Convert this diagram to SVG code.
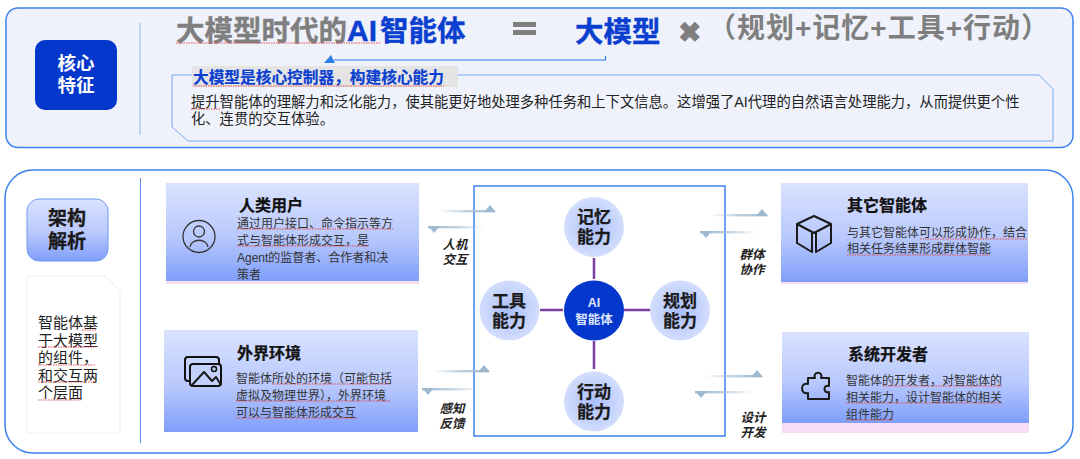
<svg xmlns="http://www.w3.org/2000/svg" width="1080" height="459" viewBox="0 0 1080 459">
<style>
text{font-family:"Liberation Sans","Noto Sans CJK SC",sans-serif}
.panel{stroke:#3b82ee;stroke-width:1.5}
.card{fill:url(#cardG)}
.pink{fill:#f8def4}
.ttl{font-size:16px;font-weight:700;fill:#111;stroke:#111;stroke-width:.25}
.body{font-size:12px;fill:#333}
.cap{font-size:17px;font-weight:700;fill:#1a1a1a;text-anchor:middle;stroke:#1a1a1a;stroke-width:.25}
.ital{font-size:12.5px;font-weight:700;font-style:italic;fill:#222;text-anchor:middle}
.cir{fill:url(#cirG)}
.link{stroke:#7a3fa0;stroke-width:2.5}
.sq{stroke:#e05050;stroke-width:1;stroke-dasharray:1.5 1;fill:none}
.ico{fill:none;stroke:#1a1a1a;stroke-width:2;stroke-linejoin:round}
</style>
<defs>
<linearGradient id="cardG" x1="0" y1="0" x2="0" y2="1"><stop offset="0" stop-color="#d9e2fe"/><stop offset="0.55" stop-color="#b9c9fd"/><stop offset="1" stop-color="#7f9efa"/></linearGradient>
<radialGradient id="cirG"><stop offset="0" stop-color="#a9bdfb"/><stop offset="1" stop-color="#d3defd"/></radialGradient>
<linearGradient id="fadeR" x1="0" y1="0" x2="1" y2="0"><stop offset="0" stop-color="#a9c2d6" stop-opacity="0"/><stop offset="0.5" stop-color="#a9c2d6" stop-opacity=".75"/><stop offset="1" stop-color="#9fbad0"/></linearGradient>
<linearGradient id="fadeL" x1="1" y1="0" x2="0" y2="0"><stop offset="0" stop-color="#a9c2d6" stop-opacity="0"/><stop offset="0.5" stop-color="#a9c2d6" stop-opacity=".75"/><stop offset="1" stop-color="#9fbad0"/></linearGradient>
<g id="arrR"><rect x="0" y="-1" width="57" height="2.4" fill="url(#fadeR)"/><path d="M46 1 L52 -6 L58 1 Z" fill="#9fbad0"/></g>
<g id="arrL"><rect x="0" y="-1" width="57" height="2.4" fill="url(#fadeL)"/><path d="M0 -1 L12 -1 L6 6 Z" fill="#9fbad0"/></g>
</defs>
<rect width="1080" height="459" fill="#fff"/>

<g id="core-panel">
<rect class="panel" x="6" y="8" width="1067" height="139.500" rx="12" fill="#eff2fb"/>
<line x1="140" y1="23" x2="140" y2="135" stroke="#8fb3ee" stroke-width="1"/>
</g>
<g id="core-badge">
<rect x="35" y="40" width="82" height="70" rx="10" fill="#0437cc"/>
<text font-size="18.500" font-weight="700" fill="#fff" text-anchor="middle"><tspan x="76" y="70">核心</tspan><tspan x="76" y="92">特征</tspan></text>
</g>
<g id="formula">
<text x="176" y="41" font-size="28.500" font-weight="700" fill="#7f7f7f" stroke="#7f7f7f" stroke-width=".4">大模型时代的</text>
<text x="347" y="41" font-size="28.500" font-weight="700" fill="#0b3fd0" stroke="#0b3fd0" stroke-width=".4"><tspan font-size="30">AI</tspan><tspan x="380">智能体</tspan></text>
<rect x="513" y="22" width="23" height="5" fill="#7f7f7f"/><rect x="513" y="30" width="23" height="5" fill="#7f7f7f"/>
<text x="575" y="42" font-size="28.500" font-weight="700" fill="#0b3fd0" stroke="#0b3fd0" stroke-width=".4">大模型</text>
<text x="689" y="42" font-size="28" font-weight="700" fill="#7f7f7f" text-anchor="middle">✖</text>
<text x="708" y="38" font-size="28" font-weight="700" fill="#7f7f7f" letter-spacing="1">（规划+记忆+工具+行动）</text>
<path class="sq" d="M176 43 H380"/>
</g>
<g id="connectors-top">
<path d="M605.500 56 V60 H334" fill="none" stroke="#2f7de8" stroke-width="1.200"/>
<path d="M324 63 L331 55 L335 63 Z" fill="#2f7de8"/>
</g>
<g id="core-note">
<path d="M192 75 H172 V127 L188 141 H1053 V89 L1039 75 H458" fill="none" stroke="#7aa7ee" stroke-width="1"/>
<rect x="192" y="66" width="266" height="21" fill="#e4e4e4"/>
<text x="193" y="83" font-size="15.700" font-weight="700" fill="#0b3fd0" stroke="#0b3fd0" stroke-width=".2">大模型是核心控制器，构建核心能力</text>
<path class="sq" d="M193 86 H444"/>
<text font-size="14.300" fill="#222"><tspan x="191" y="107">提升智能体的理解力和泛化能力，使其能更好地处理多种任务和上下文信息。这增强了AI代理的自然语言处理能力，从而提供更个性</tspan><tspan x="191" y="123.500">化、连贯的交互体验。</tspan></text>
<path class="sq" d="M191 109 H220"/>
</g>

<g id="arch-panel">
<rect class="panel" x="5" y="170" width="1068" height="283" rx="28" fill="#fff"/>
<line x1="140.500" y1="178" x2="140.500" y2="443" stroke="#5f96ee" stroke-width="1"/>
</g>
<g id="arch-badge">
<rect x="27" y="199" width="81" height="62" rx="12" fill="url(#cardG)" stroke="#6f9cf0" stroke-width="1"/>
<text font-size="19" font-weight="700" fill="#1a1a1a" stroke="#1a1a1a" stroke-width=".3" text-anchor="middle"><tspan x="67" y="225">架构</tspan><tspan x="67" y="248">解析</tspan></text>
</g>
<g id="arch-note">
<path d="M27 276 H105 L120 291 V433 H27 Z" fill="#fff" stroke="#eeeeee"/>
<text font-size="15" fill="#222"><tspan x="38" y="328">智能体基</tspan><tspan x="38" y="345.500">于大模型</tspan><tspan x="38" y="363">的组件，</tspan><tspan x="38" y="380.500">和交互两</tspan><tspan x="38" y="398">个层面</tspan></text>
<path class="sq" d="M82 330 H97 M38 347 H95 M38 365 H95 M38 382 H95 M38 400 H81"/>
</g>

<g id="human">
<rect class="pink" x="166" y="281" width="253" height="3"/>
<rect class="card" x="166" y="183" width="253" height="98"/>
<circle cx="199" cy="236.500" r="16" fill="none" stroke="#333" stroke-width="1.300"/>
<circle cx="199" cy="231.500" r="5.500" fill="none" stroke="#333" stroke-width="1.300"/>
<path d="M190 247 C191 238 207 238 208 247" fill="none" stroke="#333" stroke-width="1.300"/>
<text class="ttl" x="239" y="211">人类用户</text>
<text class="body"><tspan x="237" y="227.500">通过用户接口、命令指示等方</tspan><tspan x="237" y="245">式与智能体形成交互，是</tspan><tspan x="237" y="262">Agent的监督者、合作者和决</tspan><tspan x="237" y="278.500">策者</tspan></text>
<path class="sq" d="M237 229 H393 M237 246 H369"/>
</g>
<g id="environment">
<rect class="card" x="164" y="330" width="254" height="102"/>
<rect x="185" y="357" width="34" height="24" rx="3" fill="none" stroke="#111" stroke-width="2"/>
<rect x="190" y="364" width="31" height="22" rx="3" fill="#c3d0fc" stroke="#111" stroke-width="2"/>
<path class="ico" d="M192 385 L204 372 L212 381 L216 377 L221 385"/>
<circle cx="214" cy="369" r="2.500" fill="none" stroke="#111" stroke-width="1.500"/>
<text class="ttl" x="237" y="359">外界环境</text>
<text class="body"><tspan x="236" y="382.500">智能体所处的环境（可能包括</tspan><tspan x="236" y="399.500">虚拟及物理世界），外界环境</tspan><tspan x="236" y="416.500">可以与智能体形成交互</tspan></text>
<path class="sq" d="M272 384 H390 M236 401 H390 M236 418 H357"/>
</g>
<g id="other-agents">
<rect class="pink" x="781" y="282" width="247" height="2"/>
<rect class="card" x="781" y="183" width="247" height="99"/>
<path class="ico" d="M797 224 L814 216 L831 224 L814 233 Z M797 224 V243 L812 252 V233 M831 224 V243 L816 252 V233" stroke-width="2.200"/>
<text class="ttl" x="847" y="211">其它智能体</text>
<text class="body"><tspan x="847" y="237">与其它智能体可以形成协作，结合</tspan><tspan x="847" y="253">相关任务结果形成群体智能</tspan></text>
<path class="sq" d="M920 239 H1027 M847 255 H990"/>
</g>
<g id="developer">
<rect class="pink" x="782" y="423" width="247" height="10"/>
<rect class="card" x="782" y="332" width="247" height="91"/>
<path class="ico" d="M808 384 V378 H815 C812 371 824 371 821 378 H829 V386 C823 384 823 394 829 392 V399 H808 V393 C800 395 800 382 808 384 Z" stroke-width="1.800"/>
<text class="ttl" x="848" y="360">系统开发者</text>
<text class="body"><tspan x="846" y="385">智能体的开发者，对智能体的</tspan><tspan x="846" y="402">相关能力，设计智能体的相关</tspan><tspan x="846" y="419">组件能力</tspan></text>
<path class="sq" d="M883 386 H1002 M846 403 H1002 M846 420 H893"/>
</g>

<g id="connectors">
<rect x="474" y="186" width="251" height="250" fill="none" stroke="#3b82ee" stroke-width="1.500"/>
<path class="link" d="M594 258 V279 M594 341 V369 M540 310 H563 M624 310 H650"/>
<use href="#arrR" x="438" y="211"/><use href="#arrL" x="428" y="227"/>
<use href="#arrR" x="432" y="371"/><use href="#arrL" x="422" y="389"/>
<use href="#arrR" x="710" y="215"/><use href="#arrL" x="700" y="232"/>
<use href="#arrR" x="705" y="376"/><use href="#arrL" x="695" y="392"/>
</g>
<g id="labels">
<text class="ital"><tspan x="455" y="249">人机</tspan><tspan x="455" y="264">交互</tspan></text>
<text class="ital"><tspan x="452" y="413">感知</tspan><tspan x="452" y="428">反馈</tspan></text>
<text class="ital"><tspan x="752" y="259">群体</tspan><tspan x="752" y="274">协作</tspan></text>
<text class="ital"><tspan x="753" y="422">设计</tspan><tspan x="753" y="437">开发</tspan></text>
</g>
<g id="memory"><circle class="cir" cx="594" cy="227" r="30"/><text class="cap"><tspan x="594" y="223">记忆</tspan><tspan x="594" y="243">能力</tspan></text></g>
<g id="tools"><circle class="cir" cx="509.500" cy="310.500" r="30"/><text class="cap"><tspan x="509" y="307">工具</tspan><tspan x="509" y="327">能力</tspan></text></g>
<g id="plan"><circle class="cir" cx="680" cy="310.500" r="30"/><text class="cap"><tspan x="680" y="307">规划</tspan><tspan x="680" y="327">能力</tspan></text></g>
<g id="action"><circle class="cir" cx="594" cy="401.500" r="30"/><text class="cap"><tspan x="594" y="398">行动</tspan><tspan x="594" y="418">能力</tspan></text></g>
<g id="agent"><circle cx="594" cy="310.500" r="30" fill="#0437cc"/>
<text font-size="12.500" font-weight="700" fill="#dfe7ff" text-anchor="middle"><tspan x="594" y="307">AI</tspan><tspan x="594" y="323.500">智能体</tspan></text></g>
</svg>
